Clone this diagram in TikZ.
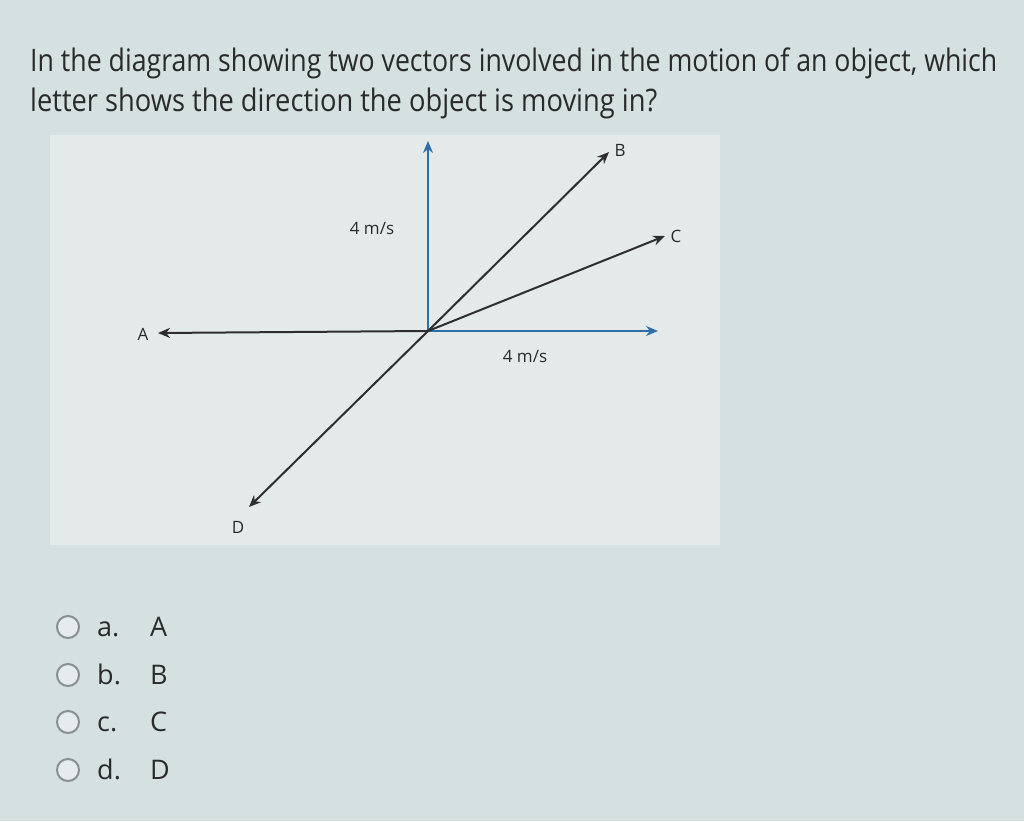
\documentclass[tikz,border=0pt]{standalone}
\usepackage{fontspec}
\setmainfont{Open Sans}
\usepackage{graphicx}
\usetikzlibrary{arrows.meta}
\definecolor{bgc}{HTML}{D5E0E1}
\definecolor{panelc}{HTML}{E4EAEA}
\definecolor{vblue}{HTML}{2F6FA6}
\definecolor{vblack}{HTML}{2E2E2E}
\definecolor{txt}{HTML}{2A2A2A}
\definecolor{radioc}{HTML}{8A8F90}
\tikzset{
  vec/.style={line width=2pt, -{Stealth[length=12pt,width=10pt]}},
  lbl/.style={font=\fontsize{17}{20}\selectfont, text=txt, inner sep=0pt},
  qtext/.style={font=\fontsize{31}{36}\selectfont, text=txt, anchor=base west, inner sep=0pt},
  opt/.style={font=\fontsize{27}{32}\selectfont, text=txt, anchor=base west, inner sep=0pt},
  radio/.style={circle, draw=radioc, line width=2pt, minimum size=22pt, inner sep=0pt, fill=bgc!60!white}
}
\begin{document}
\begin{tikzpicture}[x=1pt,y=-1pt]
\useasboundingbox (0,0) rectangle (1024,821);
\fill[bgc] (0,0) rectangle (1024,821);
\fill[panelc] (50,135) rectangle (720,545);
% question
\node[qtext] (q1) at (30,72) {\resizebox{967pt}{\height}{In the diagram showing two vectors involved in the motion of an object, which}};
\node[qtext] (q2) at (30,112) {\resizebox{627pt}{\height}{letter shows the direction the object is moving in?}};
% vectors
\coordinate (O) at (428,331);
\coordinate (up) at (428,141);
\coordinate (right) at (658,331);
\coordinate (tA) at (158,333);
\coordinate (tB) at (609,152);
\coordinate (tC) at (665,236);
\coordinate (tD) at (249,507);
\draw[vec, vblue] (O) -- (up);
\draw[vec, vblue] (O) -- (right);
\draw[vec, vblack] (O) -- (tA);
\draw[vec, vblack] (O) -- (tB);
\draw[vec, vblack] (O) -- (tC);
\draw[vec, vblack] (O) -- (tD);
\node[lbl] (v1) at (372,228) {4 m/s};
\node[lbl] (v2) at (525,356) {4 m/s};
\node[lbl] (lA) at (143,334) {A};
\node[lbl] (lB) at (620,150) {B};
\node[lbl] (lC) at (676,236) {C};
\node[lbl] (lD) at (238,527) {D};
% options
\foreach \y/\l/\L [count=\i] in {636/a./A, 684/b./B, 731/c./C, 779/d./D}{
  \node[radio] (r\i) at (68,\y-9) {};
  \node[opt] (o\i) at (97,\y) {\l};
  \node[opt] (a\i) at (150,\y) {\L};
}
\end{tikzpicture}
\end{document}
